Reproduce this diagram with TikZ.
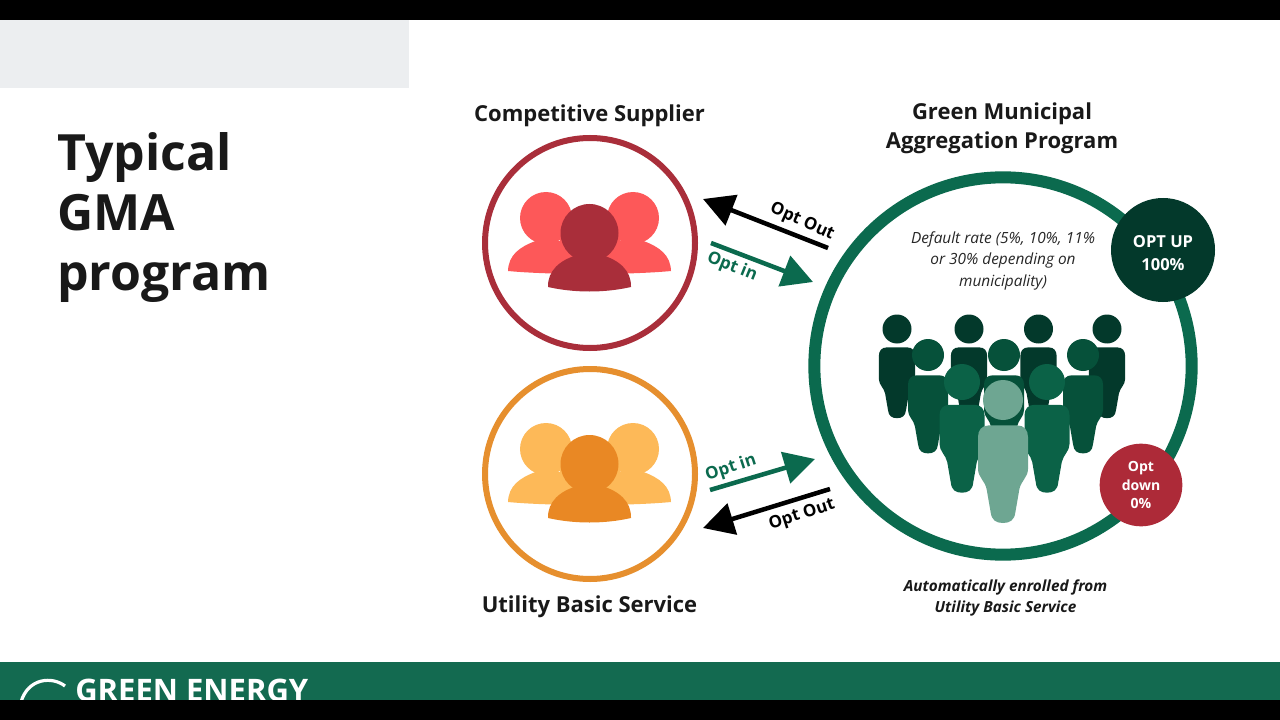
\documentclass[tikz,border=0pt]{standalone}
\usepackage{fontspec}
\setmainfont{Open Sans}
\usetikzlibrary{arrows.meta}
\definecolor{redring}{HTML}{A92E3A}
\definecolor{redback}{HTML}{FD5859}
\definecolor{orangering}{HTML}{E68F2E}
\definecolor{orangefront}{HTML}{E98824}
\definecolor{orangeback}{HTML}{FDB958}
\definecolor{greenring}{HTML}{0B6A4E}
\definecolor{footer}{HTML}{136A50}
\definecolor{darkteam}{HTML}{03392B}
\definecolor{midteam}{HTML}{06513A}
\definecolor{nearteam}{HTML}{0B6247}
\definecolor{lightteam}{HTML}{6EA692}
\definecolor{optdown}{HTML}{AD2A38}
\definecolor{panel}{HTML}{ECEEF0}
\newcommand{\fs}[2]{\fontsize{\dimexpr #1pt*3/4\relax}{\dimexpr #2pt*3/4\relax}\selectfont}
% team member: head centre at origin, head radius 1
\newcommand{\teamperson}[4]{%
  \begin{scope}[shift={(#1,#2)},x=#3*0.75pt,y=-#3*0.75pt]
    \fill[#4] (0,1.27) -- (0.72,1.27) .. controls (1.05,1.27) and (1.25,1.5) .. (1.25,1.85)
      -- (1.25,3.45) .. controls (1.25,3.85) and (0.9,4.05) .. (0.82,4.45)
      -- (0.62,5.6) .. controls (0.58,6) and (0.35,6.15) .. (0,6.15)
      .. controls (-0.35,6.15) and (-0.58,6) .. (-0.62,5.6)
      -- (-0.82,4.45) .. controls (-0.9,4.05) and (-1.25,3.85) .. (-1.25,3.45)
      -- (-1.25,1.85) .. controls (-1.25,1.5) and (-1.05,1.27) .. (-0.72,1.27) -- cycle;
    \fill[#4] (0,0) circle (1);
  \end{scope}}
% three-person icon, front head centre at origin
\newcommand{\groupicon}[4]{%
  \begin{scope}[shift={(#1,#2)}]
    \fill[#3] (-43.5,-15) circle (26);
    \fill[#3] (43.5,-15) circle (26);
    \fill[#3] (-81.5,38) .. controls (-81,22) and (-70,14) .. (-54,8)
      -- (54,8) .. controls (70,14) and (81,22) .. (81.5,38)
      .. controls (40,42) and (-40,42) .. (-81.5,38) -- cycle;
    \fill[#3] (-30,0) rectangle (30,30);
    \fill[#4] (0,0) circle (29);
    \fill[#4] (-41.5,54) .. controls (-42,38) and (-30,27) .. (-12,22)
      -- (12,22) .. controls (30,27) and (42,38) .. (41.5,54)
      .. controls (15,60) and (-15,60) .. (-41.5,54) -- cycle;
  \end{scope}}
\tikzset{
  ring/.style={circle,draw=#1,fill=white,inner sep=0pt},
  badge/.style={circle,fill=#1,inner sep=0pt,text=white,align=center},
  flow/.style={line width=3.4pt,draw=#1,fill=#1,-{Triangle[length=23pt,width=24pt]}},
  flowlabel/.style={font=\bfseries\fs{17}{20},text=#1,inner sep=0pt},
  heading/.style={font=\bfseries\fs{22}{29},inner sep=0pt,align=center,text=black!90},
}
\begin{document}
\begin{tikzpicture}[x=0.75pt,y=-0.75pt]
\useasboundingbox (0,0) rectangle (1280,720);
\fill[white] (0,0) rectangle (1280,720);
\fill[panel] (0,20) rectangle (408.5,88);
\fill[footer] (0,662) rectangle (1280,700);
\node[anchor=west,inner sep=0pt,text=white,font=\bfseries\fs{31}{30}] (brand) at (75,690) {GREEN ENERGY};
\draw[white,line width=2.4pt] (21,702) .. controls (28,678) and (52,676) .. (65,686);
\fill[black] (0,0) rectangle (1280,20);
\fill[black] (0,700) rectangle (1280,720);

\node[anchor=north west,inner sep=0pt,align=left,text=black!90,font=\bfseries\fs{50}{60}] (title) at (57,132) {Typical\\GMA\\program};

\node[heading] (supplier) at (589.5,116) {Competitive Supplier};
\node[heading] (utility) at (589.5,607) {Utility Basic Service};
\node[heading] (program) at (1002,128) {Green Municipal\\Aggregation Program};

\node[ring=redring,line width=4.5pt,minimum size=157.5pt] (compet) at (590,243) {};
\node[ring=orangering,line width=4.5pt,minimum size=157.5pt] (basic) at (590,474) {};
\node[ring=greenring,line width=9pt,minimum size=283pt] (gma) at (1003,366) {};
\groupicon{589.5}{233}{redback}{redring}
\groupicon{589.5}{464}{orangeback}{orangefront}

\node[badge=darkteam,minimum size=78pt] (up) at (1163,250) {};
\node[inner sep=0pt,align=center,text=white,font=\bfseries\fs{16.5}{23}] (uptext) at (up.center) [yshift=-2.2pt] {OPT UP\\100\%};
\node[badge=optdown,minimum size=62pt,font=\bfseries\fs{14}{18.5}] (down) at (1141,485) {Opt\\down\\0\%};

\node[inner sep=0pt,align=center,text=black!85,font=\itshape\fs{15.4}{21.5}] (rate) at (1003,260.5) {Default rate (5\%, 10\%, 11\%\\or 30\% depending on\\municipality)};
\node[inner sep=0pt,align=center,text=black!90,font=\bfseries\itshape\fs{15.3}{21}] (auto) at (1005.5,597.5) {Automatically enrolled from\\Utility Basic Service};

\teamperson{897}{329}{14.5}{darkteam}
\teamperson{969}{329}{14.5}{darkteam}
\teamperson{1038.5}{329}{14.5}{darkteam}
\teamperson{1107}{329}{14.5}{darkteam}
\teamperson{928}{355}{16}{midteam}
\teamperson{1004}{355}{16}{midteam}
\teamperson{1083}{355}{16}{midteam}
\teamperson{962}{382}{18}{nearteam}
\teamperson{1047}{382}{18}{nearteam}
\teamperson{1003}{400}{20}{lightteam}

\coordinate (outTailA) at (828,248);
\coordinate (outTipA) at (703,199);
\coordinate (inTailA) at (711,243);
\coordinate (inTipA) at (813,282);
\coordinate (inTailB) at (710,490);
\coordinate (inTipB) at (815,459);
\coordinate (outTailB) at (830,489);
\coordinate (outTipB) at (703,528);
\draw[flow=black] (outTailA) -- (outTipA);
\draw[flow=greenring] (inTailA) -- (inTipA);
\draw[flow=greenring] (inTailB) -- (inTipB);
\draw[flow=black] (outTailB) -- (outTipB);
\node[flowlabel=black,rotate=-24] (outA) at (802,222) {Opt Out};
\node[flowlabel=greenring,rotate=-22] (inA) at (732,267) {Opt in};
\node[flowlabel=greenring,rotate=18] (inB) at (731,468) {Opt in};
\node[flowlabel=black,rotate=18] (outB) at (802,515) {Opt Out};
\end{tikzpicture}
\end{document}
